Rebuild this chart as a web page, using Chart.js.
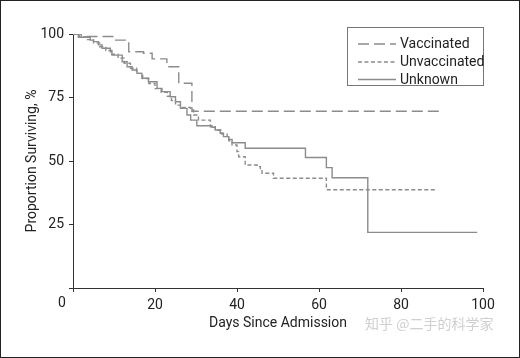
<!DOCTYPE html>
<html>
<head>
<meta charset="utf-8">
<script src="https://cdn.jsdelivr.net/npm/chart.js@4.4.1/dist/chart.umd.min.js"></script>
<style>
  html, body { margin: 0; padding: 0; background: #fff; }
  #survivalChart { display: block; }
</style>
</head>
<body>
<canvas id="survivalChart" width="520" height="358"></canvas>
<script>
    const seriesLabels = ['Vaccinated', 'Unvaccinated', 'Unknown'];

    const vaccinatedDays = [0, 2, 10, 13.6, 17.2, 19.3, 22.9, 25.8, 29.0, 89.5];
    const vaccinatedPct  = [100, 99, 97.6, 93, 92.4, 90.2, 87.1, 80.6, 69.6, 69.6];

    const unvaccinatedDays = [0, 1.5, 3.5, 5, 6.5, 8, 9.5, 11, 12.5, 14, 15.5, 17, 18.5, 20, 21.5, 23, 24, 25, 26.2, 28.6, 29, 29.4, 30.6, 33.5, 34.7, 36.3, 37.6, 38, 38.8, 40, 40.4, 42, 44.9, 45.7, 46.1, 48.9, 61.8, 88.4];
    const unvaccinatedPct  = [100, 98.8, 97.8, 96.5, 95, 93.5, 92, 90.5, 88.5, 86.5, 84.5, 82.5, 80.5, 78.5, 77, 75.5, 73.8, 72, 71.1, 70.7, 70.1, 68.1, 66.1, 63.5, 62.2, 60.6, 58.9, 58, 56.3, 53.7, 51.7, 48.4, 47.8, 46.5, 45.2, 43.2, 38.7, 38.7];

    const unknownDays = [0, 1.3, 4.2, 5, 6.2, 7.1, 9.1, 9.5, 12, 13.2, 14.4, 15.6, 16.8, 18.4, 20.5, 21.7, 23.7, 25, 26.2, 27.8, 28.7, 30.2, 33.9, 34.7, 35.9, 36.7, 38, 38.8, 42, 56.7, 61.8, 63.2, 71.9, 98.6];
    const unknownPct  = [100, 98.7, 97.6, 97, 95.7, 94.4, 93, 91.7, 89.1, 87.1, 85.8, 84.5, 82.6, 81.2, 78.6, 77.3, 75.3, 73.3, 70.7, 68.1, 66.1, 63.9, 63.3, 62.2, 60.9, 59.6, 58.5, 57.2, 55, 51.4, 47.4, 43.4, 21.9, 21.9];

    const xTicks = [0, 20, 40, 60, 80, 100];
    const yTicks = [0, 25, 50, 75, 100];

    const FONT = "Roboto, 'Liberation Sans', Arial, sans-serif";
    const lineGray = '#8c8c8c';
    const axisColor = '#333';

    function toPoints(days, pct) {
        return days.map((d, i) => ({ x: d, y: pct[i] }));
    }

    // frame, legend box, shared "0" and the watermark
    const extras = {
        id: 'extras',
        afterDraw(chart) {
            const ctx = chart.ctx;
            ctx.save();
            ctx.strokeStyle = '#222';
            ctx.lineWidth = 1;
            ctx.strokeRect(0.5, 0.5, 519, 357);

            // legend
            ctx.strokeStyle = '#777';
            ctx.strokeRect(347.5, 27.5, 136, 58);
            const rows = [44, 62, 79.5];
            chart.data.datasets.forEach((ds, i) => {
                ctx.beginPath();
                ctx.setLineDash(ds.borderDash || []);
                ctx.strokeStyle = ds.borderColor;
                ctx.lineWidth = ds.borderWidth;
                ctx.moveTo(358, rows[i]);
                ctx.lineTo(396, rows[i]);
                ctx.stroke();
                ctx.setLineDash([]);
                ctx.fillStyle = '#222';
                ctx.font = '14px ' + FONT;
                ctx.textBaseline = 'middle';
                ctx.textAlign = 'left';
                ctx.fillText(ds.label, 400, rows[i] + 0.5);
            });

            ctx.fillStyle = '#222';
            ctx.font = '14px ' + FONT;
            ctx.textAlign = 'center';
            ctx.textBaseline = 'middle';
            ctx.fillText('0', 62, 303);

            ctx.fillStyle = '#cfcfcf';
            ctx.font = "14px 'Noto Sans CJK SC', sans-serif";
            ctx.textAlign = 'left';
            ctx.fillText('知乎 @二手的科学家', 365, 324);
            ctx.restore();
        }
    };

    const ctx = document.getElementById('survivalChart').getContext('2d');
    const survivalChart = new Chart(ctx, {
        type: 'line',
        data: {
            datasets: [{
                label: seriesLabels[0],
                data: toPoints(vaccinatedDays, vaccinatedPct),
                borderColor: lineGray,
                borderWidth: 1.4,
                borderDash: [11, 5],
                stepped: true,
                pointRadius: 0,
                fill: false
            }, {
                label: seriesLabels[1],
                data: toPoints(unvaccinatedDays, unvaccinatedPct),
                borderColor: lineGray,
                borderWidth: 1.4,
                borderDash: [4, 2.5],
                stepped: true,
                pointRadius: 0,
                fill: false
            }, {
                label: seriesLabels[2],
                data: toPoints(unknownDays, unknownPct),
                borderColor: lineGray,
                borderWidth: 1.4,
                stepped: true,
                pointRadius: 0,
                fill: false
            }]
        },
        options: {
            responsive: false,
            animation: false,
            devicePixelRatio: 1,
            layout: { padding: { left: 0, right: 37, top: 34, bottom: 0 } },
            plugins: {
                legend: { display: false },
                tooltip: { enabled: false }
            },
            scales: {
                x: {
                    type: 'linear',
                    min: 0,
                    max: 100,
                    afterBuildTicks: axis => { axis.ticks = xTicks.map(v => ({ value: v })); },
                    afterFit: axis => { axis.height = 70; },
                    grid: { display: true, drawOnChartArea: false, tickLength: 4, color: axisColor },
                    border: { color: axisColor, width: 1 },
                    ticks: {
                        color: '#222',
                        font: { family: FONT, size: 14 },
                        padding: 5,
                        maxRotation: 0,
                        callback: v => v === 0 ? '' : v
                    },
                    title: {
                        display: true,
                        text: 'Days Since Admission',
                        color: '#222',
                        font: { family: FONT, size: 14 },
                        padding: { top: 0, bottom: 26 }
                    }
                },
                y: {
                    min: 0,
                    max: 100,
                    afterBuildTicks: axis => { axis.ticks = yTicks.map(v => ({ value: v })); },
                    afterFit: axis => { axis.width = 73; },
                    grid: { display: true, drawOnChartArea: false, tickLength: 4, color: axisColor },
                    border: { color: axisColor, width: 1 },
                    ticks: {
                        color: '#222',
                        font: { family: FONT, size: 14 },
                        padding: 5,
                        callback: v => v === 0 ? '' : v
                    },
                    title: {
                        display: true,
                        text: 'Proportion Surviving, %',
                        color: '#222',
                        font: { family: FONT, size: 14 },
                        padding: { top: 24, bottom: 0 }
                    }
                }
            }
        },
        plugins: [extras]
    });
</script>
</body>
</html>
